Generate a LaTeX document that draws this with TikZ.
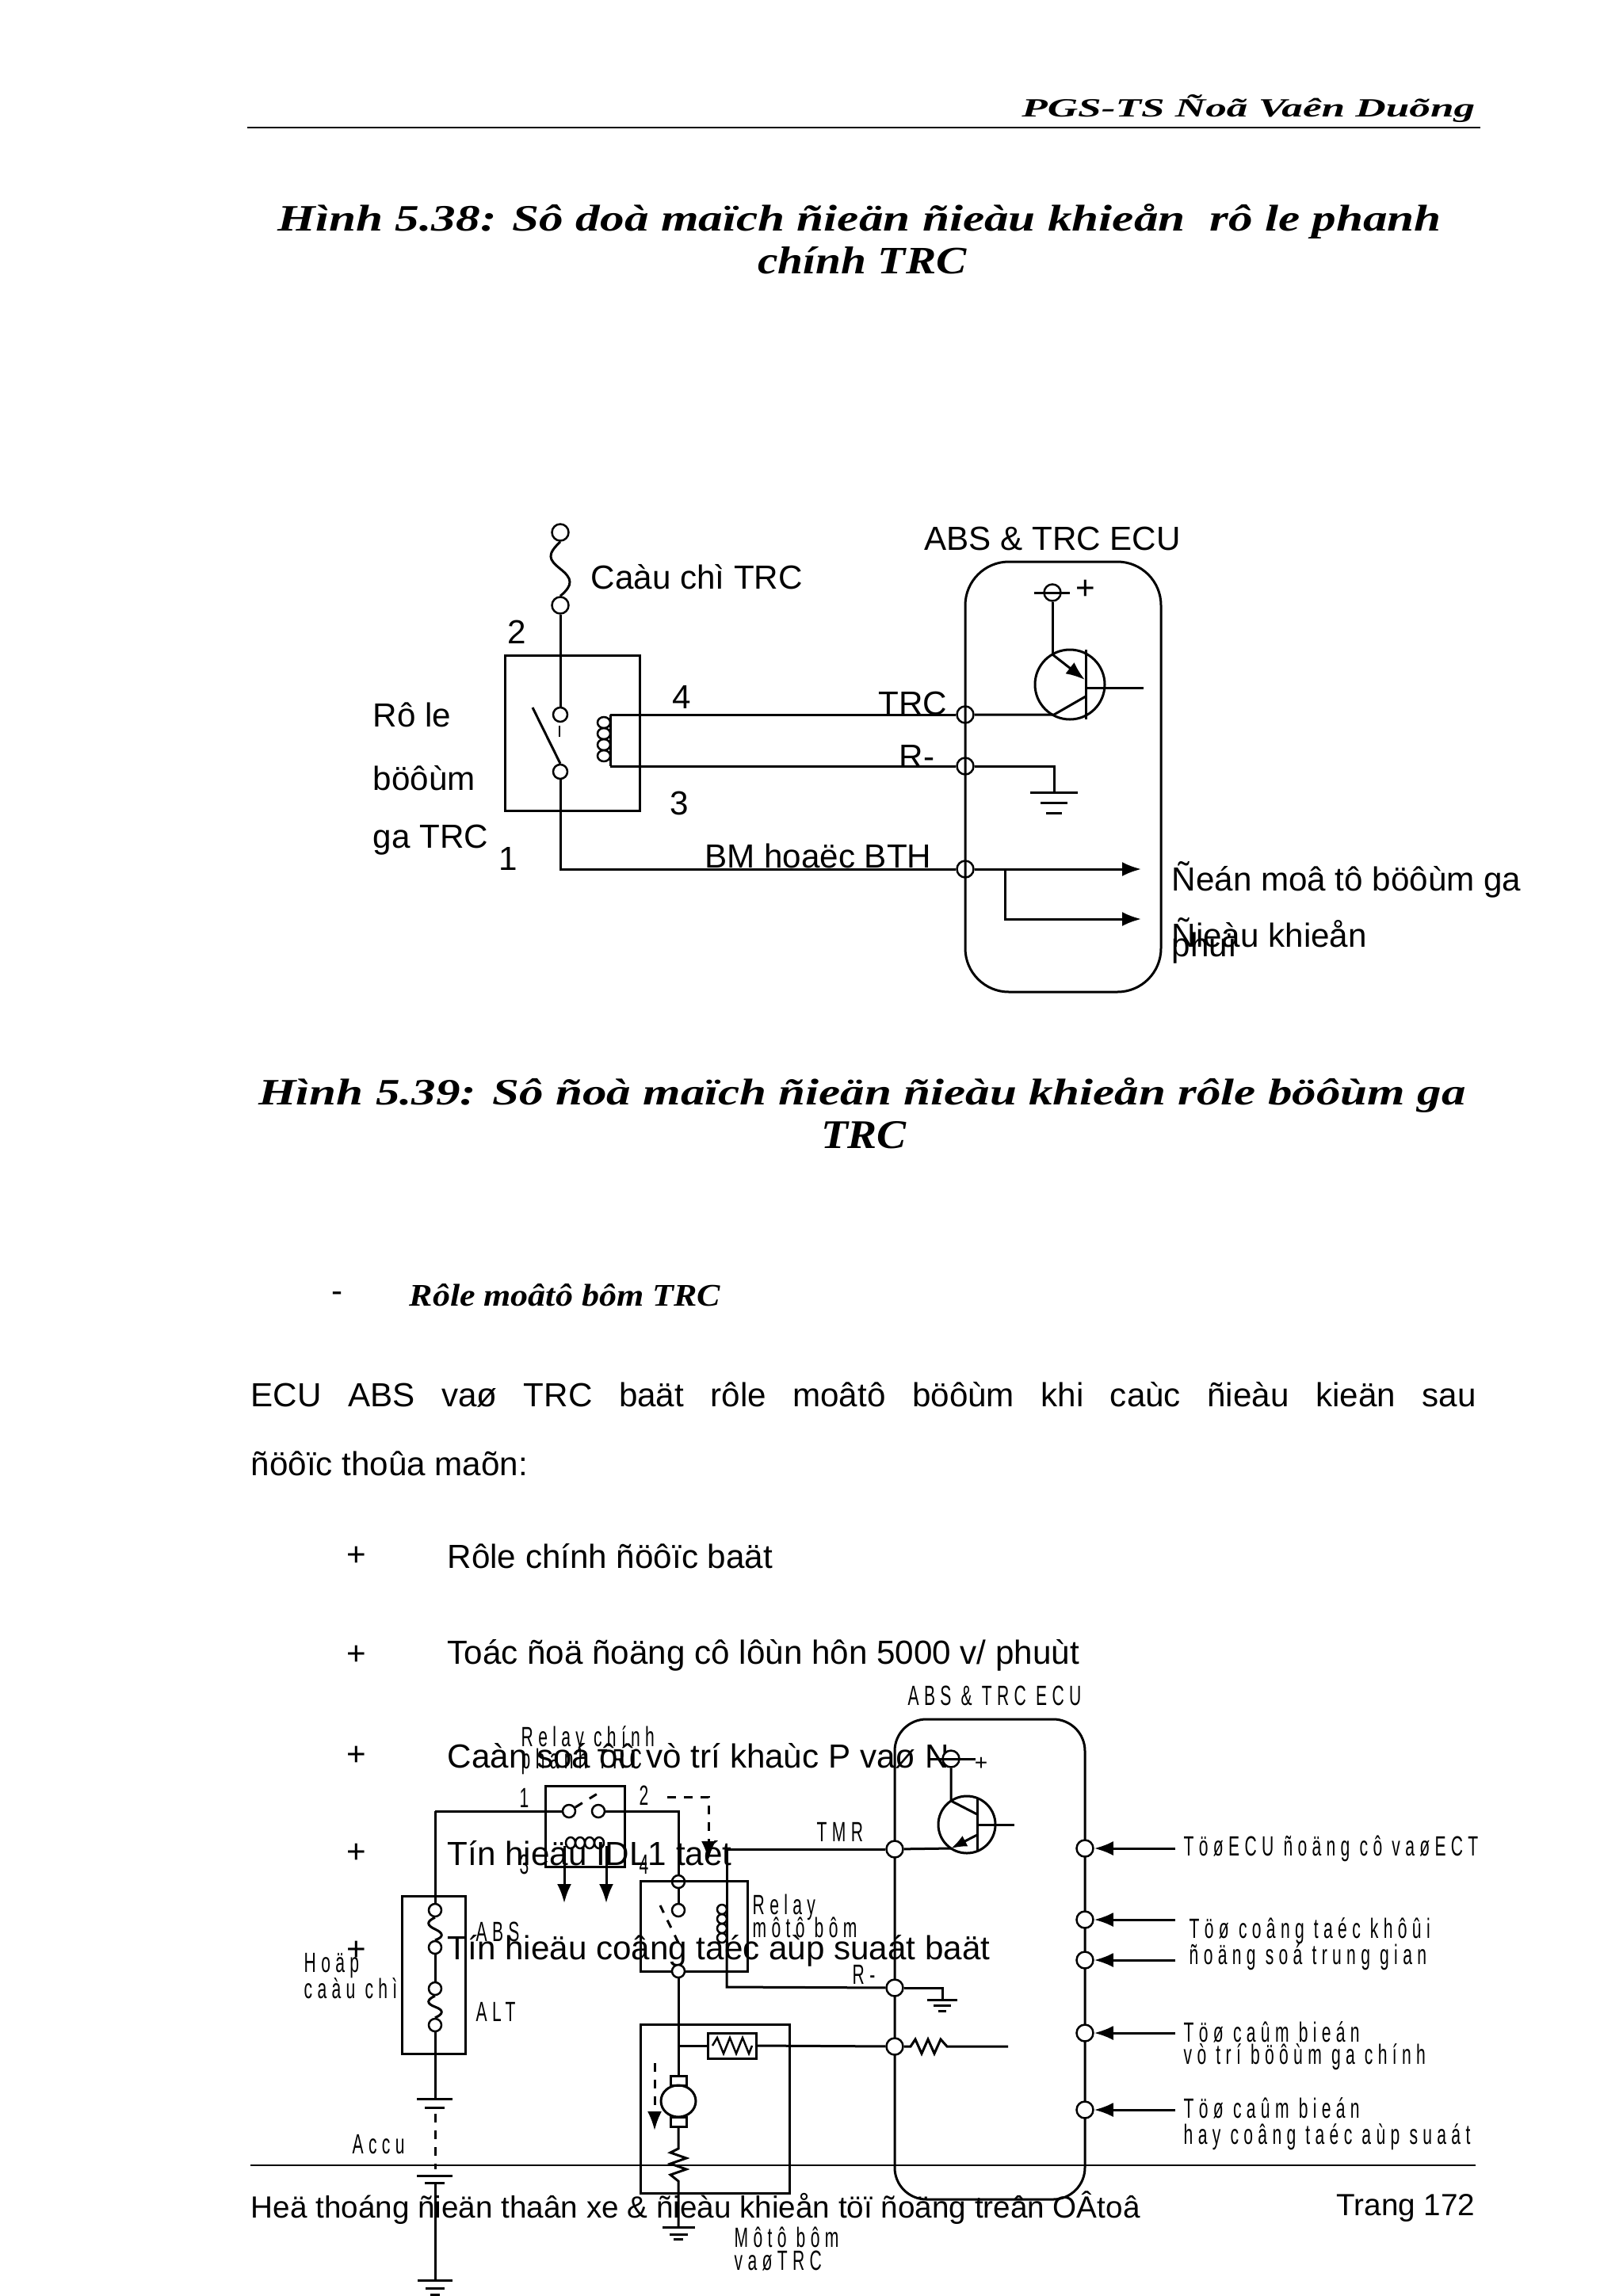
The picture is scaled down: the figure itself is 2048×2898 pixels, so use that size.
\documentclass[tikz,border=0pt]{standalone}
\usepackage{fontspec}
\usepackage{graphicx}
\setmainfont{Liberation Sans}
\newfontfamily\tif{Liberation Serif}[BoldItalicFont={* Bold Italic}]
\newfontfamily\spf[LetterSpace=30]{Liberation Sans}
\usetikzlibrary{arrows.meta}
\newcommand\sptext[1]{\scalebox{0.6}[1]{\spf\fontsize{10}{12}\selectfont #1}}
\newcommand\ttl[3]{\resizebox{#1}{#2}{\tif\bfseries\itshape #3}}
\tikzset{
 w/.style={line width=0.3mm},
 pin/.style={circle,draw,fill=white,line width=0.25mm,inner sep=0pt,minimum size=2.1mm},
 lab/.style={inner sep=0pt,font=\fontsize{12}{14}\selectfont},
 body/.style={inner sep=0pt,anchor=west,font=\fontsize{12}{14}\selectfont},
 sm/.style={inner sep=0pt,anchor=west},
 arr/.style={w,-{Latex[length=2.4mm,width=1.8mm]}},
}
\begin{document}
\begin{tikzpicture}[x=0.1mm,y=-0.1mm]
\useasboundingbox[fill=white] (0,0) rectangle (2048,2898);
% header
\node[inner sep=0pt,anchor=east] (hdr) at (1862,137) {\ttl{57.2mm}{2.8mm}{PGS-TS Ñoã Vaên Duõng}};
\draw[line width=0.25mm] (312,161) -- (1868,161);
\node[inner sep=0pt] (t1a) at (1085,279) {\ttl{146.8mm}{3.4mm}{Hình 5.38: Sô doà maïch ñieän ñieàu khieån \ rô le phanh}};
\node[inner sep=0pt] (t1b) at (1088,329) {\ttl{26.3mm}{3.4mm}{chính TRC}};
% ===== diagram 1 =====
\node[pin] (fa) at (707,672) {};
\node[pin] (fb) at (707,764) {};
\draw[w] (fa.south) .. controls (690,700) and (692,706) .. (707,718) .. controls (722,730) and (724,738) .. (fb.north);
\node[lab,anchor=west] (fuse) at (745,728) {Caàu chì TRC};
\node[lab] (n2) at (652,798) {2};
\draw[w] (637,827) rectangle (807,1023);
\node[pin,minimum size=1.8mm] (c1) at (707,902) {};
\node[pin,minimum size=1.8mm] (c2) at (707,974) {};
\draw[w] (fb) -- (c1);
\draw[w] (c2.north) -- (672,893);
\draw[line width=0.2mm] (706,916) -- (706,930);
\coordinate (k1) at (707,1097);
\node[pin] (bm) at (1218,1097) {};
\draw[w] (c2) -- (k1) -- (bm);
\coordinate (q1) at (770,902); \coordinate (q2) at (770,967);
\draw[w] (q1) -- (q2);
\foreach \yy in {912,926,940,954} \draw[line width=0.25mm] (762,\yy) ellipse (8 and 7);
\node[pin] (trc) at (1218,902) {};
\node[pin] (rm) at (1218,967) {};
\draw[w] (q1) -- (trc); \draw[w] (q2) -- (rm);
\node[lab] (n4) at (860,880) {4};
\node[lab] (n3) at (857,1014) {3};
\node[lab] (n1) at (641,1084) {1};
\node[lab,anchor=west] (rl1) at (470,902) {Rô le};
\node[lab,anchor=west] (rl2) at (470,982) {böôùm};
\node[lab,anchor=west] (rl3) at (470,1060) {ga TRC};
\node[lab,anchor=east] (ltrc) at (1196,888) {TRC};
\node[lab,anchor=east] (lrm) at (1180,955) {R-};
\node[lab,anchor=east] (lbm) at (1176,1080) {BM hoaëc BTH};
\draw[w,rounded corners=5.5mm] (1218,709) rectangle (1465,1252);
\node[lab] (ecu1) at (1328,680) {ABS \& TRC ECU};
\node[circle,draw,line width=0.3mm,minimum size=8.8mm,inner sep=0pt] (tr) at (1350,864) {};
\draw[w] (1370,820) -- (1370,908);
\draw[w] (1370,868) -- (1443,868);
\node[pin] (tp) at (1328,748) {};
\draw[w] (1305,748) -- (1350,748);
\node[lab] (plus1) at (1370,744) {+};
\coordinate (tc) at (1328,826);
\draw[w] (tp) -- (tc);
\draw[arr] (tc) -- (1369,858);
\coordinate (te) at (1330,902);
\draw[w] (trc) -- (te) -- (1370,879);
\coordinate (g1) at (1330,967); \coordinate (g1b) at (1330,1000);
\draw[w] (rm) -- (g1) -- (g1b);
\draw[w] (1300,1000) -- (1360,1000) (1313,1013) -- (1347,1013) (1320,1026) -- (1340,1026);
\coordinate (ar1) at (1440,1097);
\draw[arr] (bm) -- (ar1);
\coordinate (br1) at (1268,1097); \coordinate (br2) at (1268,1160); \coordinate (ar2) at (1440,1160);
\draw[arr] (br1) -- (br2) -- (ar2);
\node[lab,anchor=west] (o1) at (1478,1110) {Ñeán moâ tô böôùm ga};
\node[lab,anchor=west] (o2) at (1478,1177) {Ñieàu khieån};
\node[lab,anchor=west] (o3) at (1478,1197) {phuï};
% title 2
\node[inner sep=0pt] (t2a) at (1088,1382) {\ttl{152.3mm}{3.4mm}{Hình 5.39: Sô ñoà maïch ñieän ñieàu khieån rôle böôùm ga}};
\node[inner sep=0pt] (t2b) at (1090,1433) {\ttl{10.8mm}{3.4mm}{TRC}};
\node[body] (dash) at (418,1637) {-};
\node[inner sep=0pt,anchor=west] (sub) at (516,1635) {\ttl{39.2mm}{2.8mm}{Rôle moâtô bôm TRC}};
\node[body] (p1) at (316,1760) {\makebox[154.6mm][s]{ECU ABS vaø TRC baät rôle moâtô böôùm khi caùc ñieàu kieän sau}};
\node[body] (p2) at (316,1847) {ñöôïc thoûa maõn:};
\foreach \yy/\tt [count=\i] in {1964/{Rôle chính ñöôïc baät},2089/{Toác ñoä ñoäng cô lôùn hôn 5000 v/ phuùt},2216/{Caàn soá ôû vò trí khaùc P vaø N},2339/{Tín hieäu IDL1 taét},2462/{Tín hieäu coâng taéc aùp suaát baät}}{
 \node[body] (pl\i) at (437,\yy) {+};
 \node[body] (it\i) at (564,\yy) {\tt};
}
% ===== diagram 2 =====
\node[sm] (rc1) at (657,2195) {\sptext{Relay chính}};
\node[sm] (rc2) at (657,2223) {\sptext{phanh TRC}};
\draw[w] (688,2254) rectangle (788,2356);
\node[sm] (m1) at (655,2269) {\sptext{1}};
\node[sm] (m2) at (806,2266) {\sptext{2}};
\node[sm] (m3) at (655,2353) {\sptext{3}};
\node[sm] (m4) at (806,2353) {\sptext{4}};
\node[pin,minimum size=1.6mm] (c3) at (718,2286) {};
\node[pin,minimum size=1.6mm] (c4) at (755,2286) {};
\coordinate (L0) at (549,2286);
\draw[w] (L0) -- (c3);
\draw[w,dashed] (c3) -- (757,2262);
\node[pin,minimum size=1.6mm] (pp1) at (856,2375) {};
\coordinate (L1) at (856,2286);
\draw[w] (c4) -- (L1) -- (pp1);
\foreach \xx in {720,732,744,756} \draw[line width=0.25mm] (\xx,2326) ellipse (6 and 7);
\coordinate (a1) at (712,2330); \coordinate (a2) at (765,2330);
\draw[arr] (a1) -- (712,2402);
\draw[arr] (a2) -- (765,2402);
\coordinate (d1) at (842,2268); \coordinate (d2) at (894,2268);
\draw[arr,dashed] (d1) -- (d2) -- (894,2348);
% fuse box
\draw[w] (507,2393) rectangle (587,2592);
\node[pin,minimum size=1.6mm] (fu1) at (549,2411) {};
\node[pin,minimum size=1.6mm] (fu2) at (549,2458) {};
\node[pin,minimum size=1.6mm] (fu3) at (549,2510) {};
\node[pin,minimum size=1.6mm] (fu4) at (549,2556) {};
\draw[w] (L0) -- (fu1);
\draw[w] (fu1.south) .. controls (538,2425) and (538,2430) .. (549,2435) .. controls (560,2440) and (560,2445) .. (fu2.north);
\draw[w] (fu2) -- (fu3);
\draw[w] (fu3.south) .. controls (538,2524) and (538,2529) .. (549,2533) .. controls (560,2537) and (560,2542) .. (fu4.north);
\node[sm] (abs) at (600,2438) {\sptext{ABS}};
\node[sm] (alt) at (600,2539) {\sptext{ALT}};
\node[sm] (hc1) at (383,2481) {\sptext{Hoäp}};
\node[sm] (hc2) at (383,2510) {\sptext{caàu chì}};
\coordinate (bt1) at (549,2649);
\draw[w] (fu4) -- (bt1);
\draw[w] (526,2649) -- (571,2649) (536,2660) -- (561,2660);
\draw[w,dashed] (549,2668) -- (549,2738);
\draw[w] (526,2746) -- (571,2746) (536,2755) -- (561,2755);
\coordinate (bt2) at (549,2755); \coordinate (bt3) at (549,2878);
\draw[w] (bt2) -- (bt3);
\draw[w] (527,2878) -- (571,2878) (537,2888) -- (561,2888) (543,2896) -- (555,2896);
\node[sm] (accu) at (444,2707) {\sptext{Accu}};
% pump relay
\draw[w] (808,2374) rectangle (943,2488);
\node[pin,minimum size=1.6mm] (pp2) at (856,2411) {};
\node[pin,minimum size=1.6mm] (pp3) at (856,2488) {};
\draw[w] (pp1) -- (pp2);
\draw[w,dashed] (856,2452) -- (833,2405);
\coordinate (k2) at (917,2402); \coordinate (k3) at (917,2453);
\draw[w] (k2) -- (k3);
\foreach \yy in {2410,2422,2434,2446} \draw[line width=0.25mm] (911,\yy) ellipse (6 and 6);
\node[sm] (rm1) at (949,2407) {\sptext{Relay}};
\node[sm] (rm2t) at (949,2433) {\sptext{môtô bôm}};
% ECU 2
\draw[w,rounded corners=4mm] (1129,2170) rectangle (1369,2776);
\node[sm,anchor=center] (ecu2) at (1255,2140) {\sptext{ABS \& TRC ECU}};
\node[pin] (tmr) at (1129,2334) {};
\node[pin] (rmb) at (1129,2509) {};
\node[pin] (rr) at (1129,2583) {};
\coordinate (k4) at (917,2334); \coordinate (k5) at (917,2508);
\draw[w] (k3) -- (k5) -- (rmb);
\draw[w] (k2) -- (k4) -- (tmr);
\node[sm] (ltmr) at (1030,2312) {\sptext{TMR}};
\node[sm] (lrm2) at (1075,2492) {\sptext{R-}};
% motor box
\draw[w] (808,2555) rectangle (996,2768);
\draw[w] (893,2566) rectangle (954,2598);
\draw[line width=0.25mm] (899,2582) -- (905,2572) -- (913,2592) -- (921,2572) -- (929,2592) -- (937,2572) -- (945,2592) -- (949,2582);
\coordinate (mj) at (856,2582); \coordinate (mt) at (856,2620);
\draw[w] (pp3) -- (mj) -- (mt);
\draw[w] (mj) -- (893,2582);
\draw[w] (954,2582) -- (rr);
\draw[w] (846,2620) rectangle (866,2632);
\draw[w] (856,2652) ellipse (22 and 20);
\draw[w] (846,2672) rectangle (866,2684);
\draw[w] (856,2684) -- (856,2712) -- (846,2717) -- (866,2724) -- (846,2731) -- (866,2738) -- (846,2745) -- (856,2753) -- (856,2811);
\draw[w] (836,2811) -- (877,2811) (845,2820) -- (868,2820) (850,2826) -- (862,2826);
\draw[arr,dashed] (826,2604) -- (826,2689);
\node[sm] (mb1) at (926,2824) {\sptext{Môtô bôm}};
\node[sm] (mb2) at (926,2854) {\sptext{vaøTRC}};
% transistor 2
\node[pin] (tp2) at (1200,2220) {};
\draw[w] (1172,2220) -- (1231,2220);
\node[lab,font=\fontsize{8}{9}\selectfont] (plus2) at (1238,2226) {+};
\node[circle,draw,line width=0.3mm,minimum size=7.2mm,inner sep=0pt] (tr2) at (1220,2303) {};
\draw[w] (1233,2271) -- (1233,2336);
\draw[w] (1233,2303) -- (1280,2303);
\coordinate (tc2) at (1200,2273);
\draw[w] (tp2) -- (tc2) -- (1233,2290);
\coordinate (te2) at (1200,2333);
\draw[w] (tmr) -- (te2);
\draw[arr,-{Latex[length=2mm,width=1.5mm]}] (1233,2316) -- (te2);
\coordinate (g2) at (1189,2509); \coordinate (g2b) at (1189,2524);
\draw[w] (rmb) -- (g2) -- (g2b);
\draw[w] (1170,2524) -- (1208,2524) (1178,2531) -- (1200,2531) (1184,2538) -- (1194,2538);
\draw[w] (rr) -- (1149,2583) -- (1155,2574) -- (1163,2592) -- (1171,2574) -- (1179,2592) -- (1187,2574) -- (1195,2583) -- (1272,2583);
\foreach \yy [count=\i] in {2333,2423,2474,2566,2663}{
 \node[pin] (rp\i) at (1369,\yy) {};
 \coordinate (rs\i) at (1483,\yy);
 \draw[arr] (rs\i) -- (rp\i);
}
\node[sm] (s1) at (1493,2333) {\sptext{TöøECU ñoäng cô vaøECT}};
\node[sm] (s2) at (1500,2437) {\sptext{Töø coâng taéc khôûi}};
\node[sm] (s3) at (1500,2470) {\sptext{ñoäng soá trung gian}};
\node[sm] (s4) at (1493,2565) {\sptext{Töø caûm bieán}};
\node[sm] (s5) at (1493,2596) {\sptext{vò trí böôùm ga chính}};
\node[sm] (s6) at (1493,2661) {\sptext{Töø caûm bieán}};
\node[sm] (s7) at (1493,2697) {\sptext{hay coâng taéc aùp suaát}};
% footer
\draw[line width=0.2mm] (316,2733) -- (1862,2733);
\node[body,font=\fontsize{11}{13}\selectfont] (ft1) at (316,2787) {Heä thoáng ñieän thaân xe \& ñieàu khieån töï ñoäng treân OÂtoâ};
\node[inner sep=0pt,anchor=east,font=\fontsize{11}{13}\selectfont] (ft2) at (1862,2787) {Trang 172};
\end{tikzpicture}
\end{document}
